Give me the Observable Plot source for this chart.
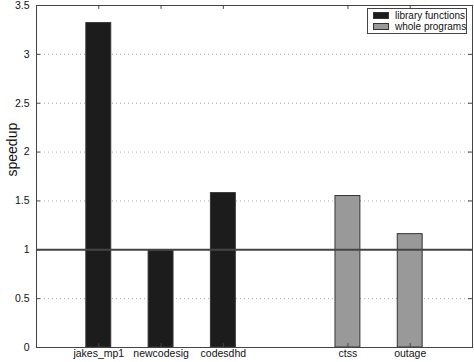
<!DOCTYPE html>
<html><head><meta charset="utf-8">
<script src="https://cdn.jsdelivr.net/npm/d3@7"></script>
<script src="https://cdn.jsdelivr.net/npm/@observablehq/plot@0.6"></script>
<style>
body{margin:0;background:#fff;font-family:"Liberation Sans",Arial,sans-serif;}
#wrap{position:relative;width:474px;height:362px;}
#legend{position:absolute;left:367px;top:8px;width:98px;height:24px;border:1px solid #444;background:#fff;font-size:10px;color:#111;white-space:nowrap;}
#legend .row{position:absolute;left:5px;height:11px;display:flex;align-items:center;white-space:nowrap;}
#legend .sw{width:16px;height:7px;border:1px solid #333;margin-right:6px;box-sizing:border-box;flex:none;}
</style></head>
<body><div id="wrap"><div id="chart"></div>
<div id="legend"></div></div>
<script>
const categories = ["jakes_mp1","newcodesig","codesdhd","ctss","outage"];
const slots = [1,2,3,5,6];
const speedup = [3.32,0.99,1.58,1.55,1.16];
const groups = ["library functions","library functions","library functions","whole programs","whole programs"];
const seriesNames = ["library functions","whole programs"];
const seriesColors = ["#1c1c1c","#999999"];
const yTicks = [0,0.5,1,1.5,2,2.5,3,3.5];
const baseline = 1;

const data = categories.map((c,i)=>({name:c, slot:slots[i], value:speedup[i], group:groups[i]}));
const colorOf = g => seriesColors[seriesNames.indexOf(g)];
const halfW = 0.2;
const tickLen = 0.065;
const tickLenY = 0.04;

const chart = Plot.plot({
  width:474, height:362,
  marginLeft:36, marginRight:2, marginTop:5, marginBottom:15,
  style:{fontFamily:"Liberation Sans, Arial, sans-serif", fontSize:"10px", color:"#111", background:"#fff"},
  x:{domain:[0,7], axis:null},
  y:{domain:[0,3.5], axis:null},
  marks:[
    Plot.ruleY(yTicks.filter(t=>t>0 && t<3.5), {stroke:"#aaa", strokeDasharray:"1,3", strokeWidth:1}),
    Plot.rectY(data, {x1:d=>d.slot-halfW, x2:d=>d.slot+halfW, y1:0, y2:"value", fill:d=>colorOf(d.group), stroke:"#333", strokeWidth:1}),
    Plot.ruleY([baseline], {stroke:"#444", strokeWidth:2}),
    Plot.frame({stroke:"#444", strokeWidth:1}),
    Plot.ruleY(yTicks, {x1:0, x2:tickLen, stroke:"#444"}),
    Plot.ruleY(yTicks, {x1:7-tickLen, x2:7, stroke:"#444"}),
    Plot.ruleX(slots, {y1:3.5-tickLenY, y2:3.5, stroke:"#444"}),
    Plot.ruleX(slots, {y1:0, y2:tickLenY, stroke:"#444"}),
    Plot.axisY({ticks:yTicks, tickSize:0, tickPadding:7, tickFormat:d=>String(d), label:null, fontSize:10.5}),
    Plot.axisX({ticks:slots, tickSize:0, tickPadding:2, tickFormat:d=>categories[slots.indexOf(d)], label:null, fontSize:10.5}),
    Plot.text(["speedup"], {frameAnchor:"left", dx:-24, rotate:-90, fontSize:14, fill:"#111"})
  ]
});
document.getElementById("chart").appendChild(chart);

const lg = document.getElementById("legend");
seriesNames.forEach((s,i)=>{
  const r = document.createElement("div");
  r.className="row"; r.style.top=(1+i*11)+"px";
  r.innerHTML=`<span class="sw" style="background:${seriesColors[i]}"></span><span>${s}</span>`;
  lg.appendChild(r);
});
</script></body></html>
